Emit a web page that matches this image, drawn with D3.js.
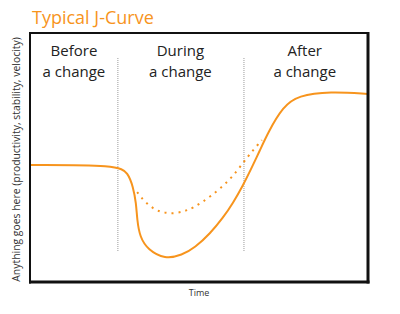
<!DOCTYPE html>
<html>
<head>
<meta charset="utf-8">
<script src="https://cdn.jsdelivr.net/npm/d3@7"></script>
<style>
  body { margin: 0; background: #fff; }
  text { font-family: "Open Sans", "Noto Sans", sans-serif; }
</style>
</head>
<body>
<div id="chart"></div>
<script>
// time runs 0..100, value runs 0..100 (no ticks on the chart)
const mainTime = [0, 26, 29, 30.5, 31.4, 31.7, 32.5, 34.9, 39.9, 45, 48.8, 53.3, 57.1, 60.1, 63, 65.1, 68, 70.4, 74.9, 79.3, 88.8, 100];
const mainValue = [47, 47, 43.8, 38.2, 31.7, 24.9, 18.1, 12.9, 9.2, 10.8, 13.8, 19.5, 25.8, 31.8, 38.8, 44.5, 52.8, 60, 70.5, 74.9, 76.5, 75.5];

const altTime = [31.7, 34, 37, 39.9, 42.9, 45.9, 48.2, 53.3, 59.2, 63, 66, 68.6];
const altValue = [36.1, 32.1, 28.9, 27.7, 27.5, 28.5, 29.7, 34.1, 41, 47.8, 53, 57];

const phaseBreaks = [26, 63.3];
const phaseLabels = [["Before", "a change"], ["During", "a change"], ["After", "a change"]];
const phaseCenters = [13, 44.5, 81.3];

const margin = { top: 33, right: 32, bottom: 32, left: 30 };
const width = 400 - margin.left - margin.right;
const height = 314 - margin.top - margin.bottom;
const orange = "#f7941d";

const svg = d3.select("#chart")
    .append("svg")
    .attr("width", 400)
    .attr("height", 314);

svg.append("text")
    .attr("x", 32)
    .attr("y", 24)
    .attr("fill", orange)
    .style("font-size", "18px")
    .text("Typical J-Curve");

const g = svg.append("g")
    .attr("transform", `translate(${margin.left}, ${margin.top})`);

const x = d3.scaleLinear().domain([0, 100]).range([0, width]);
const y = d3.scaleLinear().domain([0, 100]).range([height, 0]);

// phase dividers
g.selectAll(".divider")
    .data(phaseBreaks)
    .join("line")
    .attr("x1", d => x(d))
    .attr("x2", d => x(d))
    .attr("y1", 25)
    .attr("y2", 218)
    .attr("stroke", "#9a9a9a")
    .attr("stroke-width", 1)
    .attr("stroke-dasharray", "1,1");

// phase labels
phaseLabels.forEach((lines, i) => {
    const t = g.append("text")
        .attr("text-anchor", "middle")
        .attr("fill", "#222")
        .style("font-size", "15px");
    lines.forEach((line, j) => {
        t.append("tspan")
            .attr("x", x(phaseCenters[i]))
            .attr("y", 23 + j * 21)
            .text(line);
    });
});

// B-spline smooths out the reading noise in the points
const line = d3.line()
    .x(d => x(d[0]))
    .y(d => y(d[1]))
    .curve(d3.curveBasis);

g.append("path")
    .datum(altTime.map((t, i) => [t, altValue[i]]))
    .attr("fill", "none")
    .attr("stroke", orange)
    .attr("stroke-width", 2)
    .attr("stroke-dasharray", "2,5")
    .attr("d", line);

g.append("path")
    .datum(mainTime.map((t, i) => [t, mainValue[i]]))
    .attr("fill", "none")
    .attr("stroke", orange)
    .attr("stroke-width", 2)
    .attr("d", line);

// frame
g.append("line")
    .attr("x1", x(0)).attr("x2", x(100))
    .attr("y1", y(100)).attr("y2", y(100))
    .attr("stroke", "#111").attr("stroke-width", 2);
g.append("line")
    .attr("x1", x(0)).attr("x2", x(0))
    .attr("y1", y(100) - 1).attr("y2", y(0) + 1.5)
    .attr("stroke", "#111").attr("stroke-width", 2);
g.append("line")
    .attr("x1", x(100)).attr("x2", x(100))
    .attr("y1", y(100) - 1).attr("y2", y(0) + 1.5)
    .attr("stroke", "#111").attr("stroke-width", 3);
g.append("line")
    .attr("x1", x(0) - 1).attr("x2", x(100) + 1.5)
    .attr("y1", y(0)).attr("y2", y(0))
    .attr("stroke", "#111").attr("stroke-width", 3);

// axis titles
svg.append("text")
    .attr("transform", `translate(20, ${margin.top + height / 2 + 2}) rotate(-90)`)
    .attr("text-anchor", "middle")
    .attr("fill", "#333")
    .style("font-size", "10.4px")
    .text("Anything goes here (productivity, stability, velocity)");

svg.append("text")
    .attr("x", margin.left + width / 2)
    .attr("y", 296)
    .attr("text-anchor", "middle")
    .attr("fill", "#333")
    .style("font-size", "9px")
    .text("Time");
</script>
</body>
</html>
